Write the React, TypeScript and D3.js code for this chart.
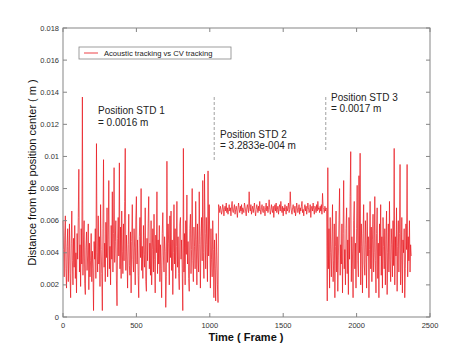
import React from "react";
import * as d3 from "d3";

// distance samples, in units of 0.1 mm, one every FRAME_STEP frames
const FRAME_STEP = 4;

// segment 1: frames 0 .. 1056
const seg1Start = 0;
const seg1 = [
  60, 42, 25, 51, 63, 30, 18, 44, 55, 22, 38, 58, 27, 12, 46, 66, 35, 20, 49, 31,
  57, 24, 40, 15, 52, 36, 62, 92, 28, 45, 19, 55, 33, 137, 26, 48, 60, 21, 14, 43,
  53, 29, 38, 58, 17, 46, 25, 35, 52, 22, 41, 30, 4, 47, 36, 55, 24, 108, 40, 28,
  63, 33, 50, 19, 70, 42, 27, 4, 55, 98, 31, 46, 22, 59, 37, 68, 25, 48, 85, 30,
  44, 20, 57, 36, 78, 28, 52, 93, 34, 47, 60, 23, 7, 49, 62, 38, 96, 30, 56, 24,
  66, 41, 27, 58, 35, 72, 105, 29, 51, 38, 18, 45, 64, 32, 26, 53, 15, 47, 70, 36,
  28, 55, 43, 20, 61, 75, 33, 48, 26, 12, 50, 62, 37, 80, 29, 44, 24, 57, 39, 31,
  68, 22, 16, 49, 35, 58, 75, 30, 46, 26, 60, 20, 42, 55, 28, 64, 36, 15, 51, 40,
  78, 27, 48, 33, 57, 22, 45, 30, 12, 52, 65, 38, 28, 50, 41, 6, 25, 97, 34, 58,
  46, 20, 63, 37, 66, 29, 48, 14, 40, 70, 33, 55, 24, 44, 72, 31, 50, 27, 17, 58,
  62, 36, 48, 30, 4, 105, 28, 52, 20, 60, 39, 76, 33, 47, 24, 16, 55, 64, 27, 42,
  80, 35, 22, 56, 44, 30, 72, 48, 20, 58, 38, 28, 78, 45, 18, 50, 62, 35, 85, 40,
  24, 89, 52, 30, 62, 45, 22, 91, 38, 70, 48, 18, 55, 36, 25, 60, 42, 12, 48, 30,
  10, 52, 38, 20, 9,
];

// segment 2: frames 1060 .. 1796 (steady hold)
const seg2Start = 1060;
const seg2 = [
  70, 68, 65, 69, 67, 64, 66, 70, 68, 63, 67, 69, 66, 71, 65, 68, 64, 67, 70, 66,
  68, 63, 69, 72, 66, 65, 68, 70, 64, 67, 69, 66, 62, 68, 71, 67, 65, 69, 66, 70,
  64, 68, 67, 65, 71, 69, 66, 63, 68, 70, 67, 65, 78, 68, 66, 70, 64, 67, 69, 65,
  68, 71, 66, 63, 67, 70, 68, 65, 69, 66, 72, 67, 64, 68, 70, 66, 65, 69, 67, 63,
  68, 71, 66, 69, 65, 67, 73, 68, 64, 66, 70, 67, 65, 69, 62, 68, 70, 66, 71, 65,
  67, 69, 64, 68, 70, 66, 72, 67, 65, 69, 63, 68, 66, 70, 67, 64, 69, 66, 68, 71,
  65, 67, 78, 69, 66, 64, 68, 70, 67, 65, 69, 63, 66, 71, 68, 65, 67, 70, 64, 68,
  66, 69, 72, 65, 67, 63, 68, 70, 66, 69, 64, 67, 71, 68, 65, 66, 70, 62, 68, 69,
  66, 71, 67, 64, 69, 68, 65, 70, 66, 72, 67, 68, 65, 69, 66, 70, 64, 77, 68, 67,
  65, 69, 66, 68, 67,
];

// segment 3: frames 1800 .. 2372
const seg3Start = 1800;
const seg3 = [
  10, 93, 30, 55, 18, 62, 40, 25, 48, 70, 22, 35, 58, 12, 44, 66, 28, 50, 16, 38,
  60, 80, 26, 45, 33, 58, 15, 52, 85, 30, 42, 20, 55, 68, 27, 48, 14, 62, 36, 75,
  103, 22, 50, 38, 12, 60, 72, 30, 46, 18, 55, 82, 35, 25, 88, 40, 102, 20, 58, 44,
  15, 52, 70, 33, 26, 60, 45, 18, 65, 38, 50, 12, 42, 72, 30, 56, 22, 48, 64, 28,
  40, 75, 35, 15, 52, 68, 24, 46, 12, 58, 38, 70, 26, 50, 18, 62, 44, 30, 55, 20,
  48, 66, 14, 40, 58, 28, 72, 36, 22, 55, 45, 25, 60, 32, 105, 20, 50, 38, 68, 16,
  44, 60, 28, 52, 95, 20, 35, 62, 15, 48, 40, 55, 12, 30, 58, 42, 95, 25, 50, 35,
  60, 28, 45, 38,
];

const xTicks = [0, 500, 1000, 1500, 2000, 2500];
const yTicks = [0, 0.002, 0.004, 0.006, 0.008, 0.01, 0.012, 0.014, 0.016, 0.018];

const legendLabel = "Acoustic tracking vs CV tracking";
const stdNotes = [
  { frame: 1030, lines: ["Position STD 1", "= 0.0016 m"] },
  { frame: 1030, lines: ["Position STD 2", "= 3.2833e-004 m"] },
  { frame: 1790, lines: ["Position STD 3", "= 0.0017 m"] },
];

type Pt = { frame: number; dist: number };

const toPoints = (start: number, vals: number[]): Pt[] =>
  vals.map((v, i) => ({ frame: start + i * FRAME_STEP, dist: v * 1e-4 }));

const series: Pt[] = [
  ...toPoints(seg1Start, seg1),
  ...toPoints(seg2Start, seg2),
  ...toPoints(seg3Start, seg3),
];

const W = 474;
const H = 355;
const left = 63;
const right = 430;
const top = 28;
const bottom = 317;
const font = "'Liberation Sans', Arial, Helvetica, sans-serif";
const axisColor = "#858585";
const lineColor = "#e8121a";

export default function App() {
  const x = d3.scaleLinear().domain([0, 2500]).range([left, right]);
  const y = d3.scaleLinear().domain([0, 0.018]).range([bottom, top]);

  const line = d3
    .line<Pt>()
    .x((d) => x(d.frame))
    .y((d) => y(d.dist));

  const fmtY = (v: number) => String(+v.toFixed(3));

  return (
    <svg
      width={W}
      height={H}
      style={{ position: "absolute", left: 0, top: 0, background: "#fff" }}
      fontFamily={font}
    >
      <rect x={0} y={0} width={W} height={H} fill="#fff" />

      {/* data */}
      <path d={line(series) ?? ""} fill="none" stroke={lineColor} strokeWidth={0.7} />

      {/* box + inward ticks */}
      <rect x={left} y={top} width={right - left} height={bottom - top} fill="none" stroke={axisColor} strokeWidth={1} />
      {xTicks.map((t) => (
        <g key={"x" + t}>
          <line x1={x(t)} x2={x(t)} y1={bottom} y2={bottom - 4} stroke={axisColor} />
          <line x1={x(t)} x2={x(t)} y1={top} y2={top + 4} stroke={axisColor} />
          <text x={x(t)} y={bottom + 11} fontSize={7.5} fill="#333" textAnchor="middle">
            {t}
          </text>
        </g>
      ))}
      {yTicks.map((t) => (
        <g key={"y" + t}>
          <line x1={left} x2={left + 4} y1={y(t)} y2={y(t)} stroke={axisColor} />
          <line x1={right} x2={right - 4} y1={y(t)} y2={y(t)} stroke={axisColor} />
          <text x={left - 4} y={y(t) + 2.6} fontSize={7.5} fill="#333" textAnchor="end">
            {fmtY(t)}
          </text>
        </g>
      ))}

      {/* axis titles */}
      <text x={246} y={341} fontSize={11} fontWeight="bold" fill="#111" textAnchor="middle">
        Time ( Frame )
      </text>
      <text
        transform={`translate(36,${(top + bottom) / 2}) rotate(-90)`}
        fontSize={11}
        fill="#111"
        textAnchor="middle"
      >
        Distance from the position center ( m )
      </text>

      {/* legend */}
      <rect x={79} y={47} width={152} height={12} fill="#fff" stroke={axisColor} strokeWidth={0.8} />
      <line x1={84} x2={98} y1={53} y2={53} stroke={lineColor} strokeWidth={0.8} />
      <text x={104} y={56} fontSize={7.6} fill="#222">
        {legendLabel}
      </text>

      {/* std notes */}
      <text x={98} y={114} fontSize={10} fill="#222">
        <tspan x={98}>{stdNotes[0].lines[0]}</tspan>
        <tspan x={98} y={126}>{stdNotes[0].lines[1]}</tspan>
      </text>

      <line x1={x(stdNotes[1].frame)} x2={x(stdNotes[1].frame)} y1={97} y2={162} stroke="#888" strokeDasharray="3,2" strokeWidth={0.8} />
      <text x={220} y={138} fontSize={10} fill="#222">
        <tspan x={220}>{stdNotes[1].lines[0]}</tspan>
        <tspan x={220} y={149}>{stdNotes[1].lines[1]}</tspan>
      </text>

      <line x1={x(stdNotes[2].frame)} x2={x(stdNotes[2].frame)} y1={97} y2={150} stroke="#888" strokeDasharray="3,2" strokeWidth={0.8} />
      <text x={331} y={101} fontSize={10} fill="#222">
        <tspan x={331}>{stdNotes[2].lines[0]}</tspan>
        <tspan x={331} y={112}>{stdNotes[2].lines[1]}</tspan>
      </text>
    </svg>
  );
}
